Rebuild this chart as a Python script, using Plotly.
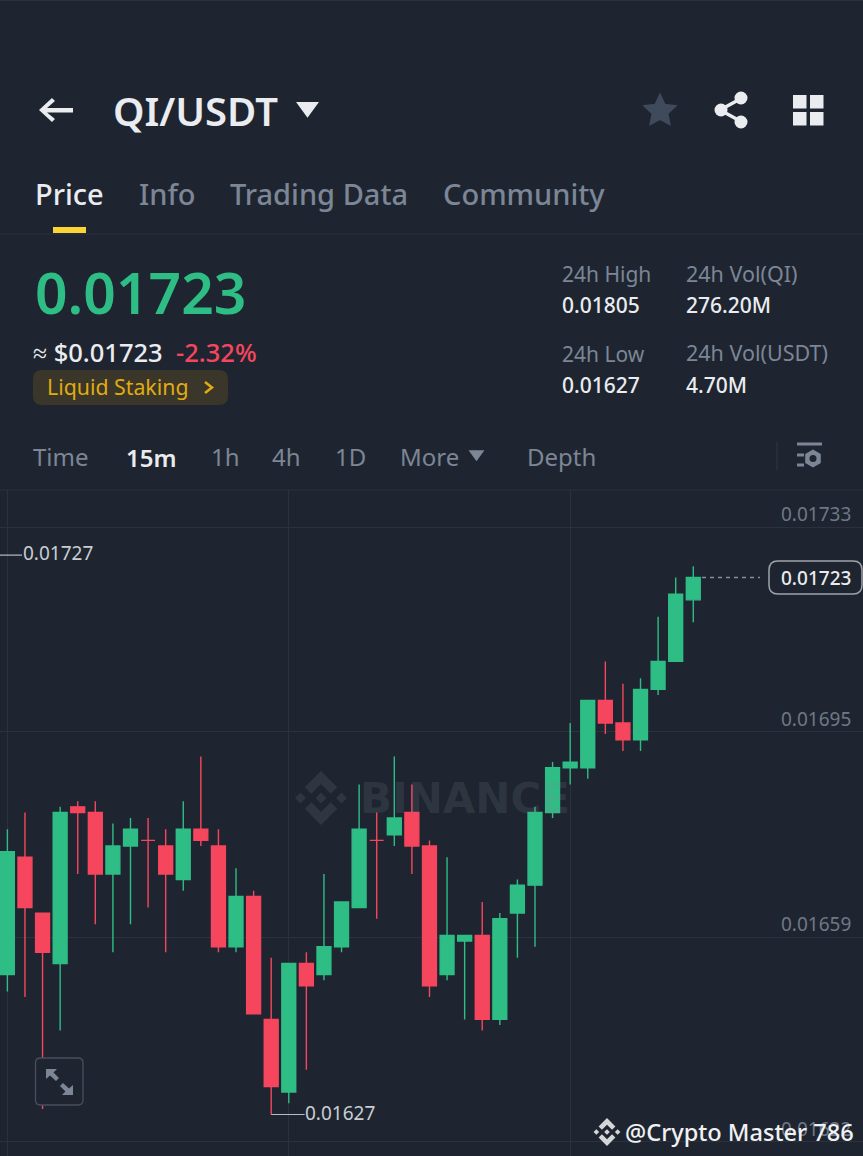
import math
import plotly.graph_objects as go

W, H = 863, 1156
BG = "#1E2530"
GRID = "#2B323D"
GREEN = "#2EBD85"
RED = "#F6465D"
WHITE = "#EAECEF"
GREY = "#7C8696"
FONT = "Noto Sans"

# 15m candles
opens = [0.01652, 0.01673, 0.01663, 0.01654, 0.01682, 0.01681, 0.01670, 0.01675, 0.01676, 0.01675,
         0.01669, 0.01678, 0.01675, 0.01657, 0.01666, 0.01644, 0.01631, 0.01654, 0.01652, 0.01657,
         0.01664, 0.01676, 0.01677, 0.01681, 0.01675, 0.01652, 0.01658, 0.01659, 0.01644, 0.01663,
         0.01668, 0.01681, 0.01689, 0.01689, 0.01701, 0.01697, 0.01694, 0.01703, 0.01708, 0.01719]
highs = [0.01678, 0.01681, 0.01663, 0.01682, 0.01683, 0.01683, 0.01679, 0.01680, 0.01680, 0.01678,
         0.01683, 0.01691, 0.01678, 0.01671, 0.01667, 0.01655, 0.01654, 0.01656, 0.01670, 0.01665,
         0.01686, 0.01681, 0.01691, 0.01686, 0.01676, 0.01673, 0.01659, 0.01665, 0.01663, 0.01669,
         0.01682, 0.01690, 0.01697, 0.01701, 0.01708, 0.01704, 0.01705, 0.01716, 0.01723, 0.01725]
lows = [0.01649, 0.01648, 0.01628, 0.01642, 0.01670, 0.01661, 0.01656, 0.01661, 0.01664, 0.01656,
        0.01667, 0.01675, 0.01656, 0.01656, 0.01645, 0.01627, 0.01629, 0.01635, 0.01651, 0.01656,
        0.01664, 0.01662, 0.01675, 0.01670, 0.01648, 0.01651, 0.01644, 0.01642, 0.01643, 0.01655,
        0.01657, 0.01680, 0.01686, 0.01687, 0.01695, 0.01692, 0.01692, 0.01702, 0.01708, 0.01715]
closes = [0.01674, 0.01664, 0.01656, 0.01681, 0.01681, 0.01670, 0.01675, 0.01678, 0.01676, 0.01670,
          0.01678, 0.01676, 0.01657, 0.01666, 0.01645, 0.01632, 0.01654, 0.01650, 0.01657, 0.01665,
          0.01678, 0.01676, 0.01680, 0.01675, 0.01650, 0.01659, 0.01659, 0.01644, 0.01662, 0.01668,
          0.01681, 0.01689, 0.01690, 0.01701, 0.01697, 0.01694, 0.01703, 0.01708, 0.01720, 0.01723]
candles = list(range(len(opens)))

price_ticks = [0.01732, 0.016954, 0.016587, 0.016221]
price_labels = ["0.01733", "0.01695", "0.01659", "0.01622"]
time_ticks = [0, 16, 32]
last_price = 0.01723
low_24h = 0.01627
left_mark = 0.01727


def px(x):
    return x / W


def py(y):
    return 1 - y / H


def path(points, close=True):
    s = "M" + " L".join(f"{px(x):.5f},{py(y):.5f}" for x, y in points)
    return s + (" Z" if close else "")


def round_rect(x0, y0, x1, y1, r):
    a = [(x0 + r, y0), (x1 - r, y0)]
    s = f"M{px(a[0][0]):.5f},{py(y0):.5f} L{px(a[1][0]):.5f},{py(y0):.5f}"
    s += f" Q{px(x1):.5f},{py(y0):.5f} {px(x1):.5f},{py(y0 + r):.5f}"
    s += f" L{px(x1):.5f},{py(y1 - r):.5f} Q{px(x1):.5f},{py(y1):.5f} {px(x1 - r):.5f},{py(y1):.5f}"
    s += f" L{px(x0 + r):.5f},{py(y1):.5f} Q{px(x0):.5f},{py(y1):.5f} {px(x0):.5f},{py(y1 - r):.5f}"
    s += f" L{px(x0):.5f},{py(y0 + r):.5f} Q{px(x0):.5f},{py(y0):.5f} {px(x0 + r):.5f},{py(y0):.5f} Z"
    return s


shapes = []
notes = []


def poly(points, fill, close=True, line=None, width=0, **kw):
    shapes.append(dict(type="path", xref="paper", yref="paper", path=path(points, close),
                       fillcolor=fill if close else "rgba(0,0,0,0)",
                       line=dict(color=line or fill, width=width), **kw))


def seg(x0, y0, x1, y1, color, width=1.0, dash=None):
    shapes.append(dict(type="line", xref="paper", yref="paper", x0=px(x0), y0=py(y0), x1=px(x1), y1=py(y1),
                       line=dict(color=color, width=width, dash=dash or "solid")))


def rrect(x0, y0, x1, y1, r, fill="rgba(0,0,0,0)", line=None, width=0):
    shapes.append(dict(type="path", xref="paper", yref="paper", path=round_rect(x0, y0, x1, y1, r),
                       fillcolor=fill, line=dict(color=line or fill, width=width)))


def dot(cx, cy, r, fill):
    shapes.append(dict(type="circle", xref="paper", yref="paper", x0=px(cx - r), x1=px(cx + r),
                       y0=py(cy + r), y1=py(cy - r), fillcolor=fill, line=dict(width=0)))


def note(text, x, y, size, color, weight=400, anchor="left", family=FONT):
    if anchor == "left":
        x -= 1.5
    notes.append(dict(text=text, xref="paper", yref="paper", x=px(x), y=py(y - 1), xanchor=anchor, yanchor="middle",
                      showarrow=False, align=anchor, borderpad=0,
                      font=dict(family=family, size=size, color=color, weight=weight)))


def binance_logo(cx, cy, r, fill, opacity=1.0):
    parts = [
        [(0, -0.2), (0.2, 0), (0, 0.2), (-0.2, 0)],
        [(-0.76, -0.2), (-0.56, 0), (-0.76, 0.2), (-0.96, 0)],
        [(0.76, -0.2), (0.96, 0), (0.76, 0.2), (0.56, 0)],
        [(0, -1), (0.6, -0.4), (0.36, -0.16), (0, -0.52), (-0.36, -0.16), (-0.6, -0.4)],
        [(0, 1), (0.6, 0.4), (0.36, 0.16), (0, 0.52), (-0.36, 0.16), (-0.6, 0.4)],
    ]
    for p in parts:
        poly([(cx + a * r, cy + b * r) for a, b in p], fill, opacity=opacity)


# header
seg(0, 0.5, W, 0.5, GRID, 1)
poly([(39, 110), (52, 98), (55, 101), (47, 108), (73, 108), (73, 112.5), (47, 112.5), (55, 119), (52, 122)], WHITE)
note("QI/USDT", 113, 112, 40, WHITE, 600)
poly([(298, 103), (317, 103), (307.5, 116)], WHITE, line=WHITE, width=2)
star = []
for i in range(10):
    rad = 16.2 if i % 2 == 0 else 7.8
    ang = -math.pi / 2 + i * math.pi / 5
    star.append((660 + rad * math.cos(ang), 111 + rad * math.sin(ang)))
poly(star, "#3F4A5C", line="#3F4A5C", width=2)
seg(720, 110, 742, 98, WHITE, 3.5)
seg(720, 110, 742, 122, WHITE, 3.5)
dot(721, 110, 6.5, WHITE)
dot(741, 98, 6.5, WHITE)
dot(741, 122, 6.5, WHITE)
for x0, y0 in [(793, 95), (810, 95), (793, 112), (810, 112)]:
    shapes.append(dict(type="rect", xref="paper", yref="paper", x0=px(x0), x1=px(x0 + 13.5), y0=py(y0 + 13.5),
                       y1=py(y0), fillcolor=WHITE, line=dict(width=0)))

# tabs
note("Price", 35, 194, 29, WHITE, 500)
note("Info", 139, 194, 29, GREY, 500)
note("Trading Data", 230, 194, 29, GREY, 500)
note("Community", 443, 194, 29, GREY, 500)
shapes.append(dict(type="rect", xref="paper", yref="paper", x0=px(53), x1=px(86), y0=py(233), y1=py(227),
                   fillcolor="#FCD535", line=dict(width=0)))
seg(0, 234, W, 234, GRID, 1)

# price block
note("0.01723", 35, 293, 57, GREEN, 600)
note("≈ $0.01723", 33, 353, 25.5, WHITE, 500)
note("-2.32%", 176, 353, 25.5, RED, 500)
rrect(33, 370, 228, 405, 9, fill="#3A3629")
note("Liquid Staking", 47, 387, 21.3, "#E0AC12")
poly([(205, 382), (212, 387.5), (205, 393)], "#E0AC12", close=False, line="#E0AC12", width=2.5)

note("24h High", 562, 275, 21, GREY)
note("0.01805", 562, 306, 21, WHITE, 500)
note("24h Low", 562, 355, 21, GREY)
note("0.01627", 562, 386, 21, WHITE, 500)
note("24h Vol(QI)", 686, 274, 21.5, GREY)
note("276.20M", 686, 306, 21, WHITE, 500)
note("24h Vol(USDT)", 686, 354, 21.5, GREY)
note("4.70M", 686, 386, 21, WHITE, 500)

# interval row
note("Time", 33, 457, 24, GREY)
note("15m", 126, 458, 24, WHITE, 600)
note("1h", 211, 457, 24, GREY)
note("4h", 272, 457, 24, GREY)
note("1D", 335, 457, 24, GREY)
note("More", 400, 457, 24, GREY)
poly([(470, 451), (483, 451), (476.5, 460)], GREY, line=GREY, width=1.5)
note("Depth", 527, 457, 24, GREY)
seg(777, 442, 777, 470, GRID, 1.5)
seg(797, 444, 822, 444, GREY, 3)
seg(797, 455, 804, 455, GREY, 3)
seg(797, 465, 804, 465, GREY, 3)
hexa = [(813 + 9 * math.cos(math.pi / 6 + i * math.pi / 3), 458.5 + 9 * math.sin(math.pi / 6 + i * math.pi / 3))
        for i in range(6)]
poly(hexa, GREY)
dot(813, 458.5, 3.5, BG)
seg(0, 490, W, 490, GRID, 1)

# chart marks
fig = go.Figure(go.Candlestick(
    x=candles, open=opens, high=highs, low=lows, close=closes,
    increasing=dict(line=dict(color=GREEN, width=1.4), fillcolor=GREEN),
    decreasing=dict(line=dict(color=RED, width=1.4), fillcolor=RED),
    whiskerwidth=0, hoverinfo="skip",
))

# price labels sit just above their gridlines
for val, lab in zip(price_ticks, price_labels):
    notes.append(dict(text=lab, xref="paper", yref="y", x=px(852), y=val, xanchor="right", yanchor="bottom", yshift=-1,
                      showarrow=False, borderpad=0, font=dict(family=FONT, size=19, color="#6F7885")))

# last price
shapes.append(dict(type="line", xref="paper", yref="y", x0=px(702), x1=px(760), y0=last_price, y1=last_price,
                   line=dict(color="#848E9C", width=1.3, dash="4px,4px")))
rrect(769, 561, 862, 594, 9, fill=BG, line="#A0A4AB", width=1.5)
note("0.01723", 815.5, 579, 19, WHITE, 500, anchor="center")

# marked high and low
shapes.append(dict(type="line", xref="paper", yref="y", x0=0, x1=px(22), y0=left_mark, y1=left_mark,
                   line=dict(color="#B7BDC6", width=1.2)))
note("0.01727", 23, 554, 19, "#C9CDD3")
shapes.append(dict(type="line", xref="x", yref="y", x0=15, x1=16.9, y0=low_24h, y1=low_24h,
                   line=dict(color="#B7BDC6", width=1.2)))
note("0.01627", 305, 1114, 19, "#C9CDD3")

# expand button
rrect(35.5, 1058, 83, 1105, 5, fill=BG, line="#474F5C", width=1.3)
poly([(46, 1069), (57, 1069), (53.5, 1072.5), (59, 1078), (56, 1081), (50, 1075.5), (46, 1079)], "#7C8696")
poly([(73, 1095), (62, 1095), (65.5, 1091.5), (60, 1086), (63, 1083), (69, 1088.5), (73, 1085)], "#7C8696")

# watermarks
binance_logo(321, 798, 27, "#848E9C", opacity=0.16)
note("BINANCE", 360, 799, 42, "rgba(132,142,156,0.16)", 700, family="DejaVu Sans")
binance_logo(607, 1132, 14, "#D5D6D8")
note("@Crypto Master 786", 625, 1133, 23.6, "#F0F1F2", 500)

fig.update_layout(
    width=W, height=H,
    margin=dict(l=0, r=0, t=0, b=0),
    paper_bgcolor=BG, plot_bgcolor=BG,
    showlegend=False, dragmode=False,
    font=dict(family=FONT),
    shapes=shapes, annotations=notes,
    boxgap=0, boxgroupgap=0.21,
    xaxis=dict(range=[-0.42, 48.65], rangeslider=dict(visible=False), tickvals=time_ticks, showticklabels=False,
               showgrid=True, gridcolor=GRID, gridwidth=1, zeroline=False, showline=False, ticks=""),
    yaxis=dict(domain=[0, 1 - 490 / H], range=[0.0161958, 0.0173864], tickvals=price_ticks, showticklabels=False,
               showgrid=True, gridcolor=GRID, gridwidth=1, zeroline=False, showline=False, ticks=""),
)

fig.write_html("out.html", config=dict(displayModeBar=False, staticPlot=True),
               post_script="document.body.style.margin='0';document.documentElement.style.overflow='hidden';")
